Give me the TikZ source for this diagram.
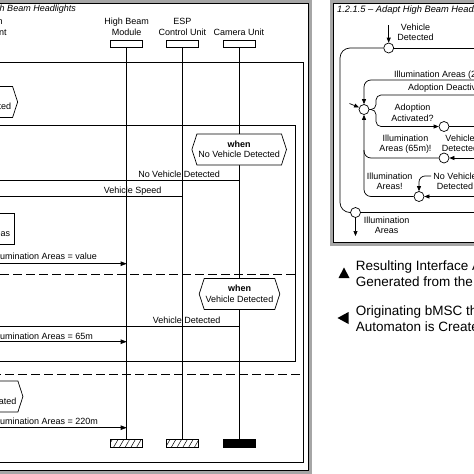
\documentclass[tikz,border=0pt]{standalone}
\usepackage{fontspec}
\setmainfont{Liberation Sans}
\usetikzlibrary{arrows.meta,shapes.symbols,patterns.meta}

\begin{document}
\begin{tikzpicture}[x=1pt,y=-1pt,
    every node/.style={font=\fontsize{9}{10.5}\selectfont,inner sep=0pt},
    head/.style={draw,line width=0.7pt,minimum width=32pt,minimum height=7.5pt},
    stopbox/.style={draw,line width=0.7pt,minimum width=32pt,minimum height=8.5pt},
    life/.style={line width=0.7pt},
    msg/.style={line width=0.7pt,-{Triangle[length=6pt,width=4.5pt]}},
    frag/.style={line width=0.7pt},
    when/.style={draw,fill=white,line width=0.7pt,signal,signal to=west and east,
      signal pointer angle=144,inner xsep=1.5pt,minimum height=31pt,align=center},
    state/.style={draw,circle,fill=white,line width=0.7pt,minimum size=10pt},
    trans/.style={line width=0.7pt,rounded corners=7pt},
    tip/.style={-{Triangle[length=5pt,width=4pt]}},
    shadow/.style={draw=gray!70,line width=3pt}]
  \useasboundingbox (0,0) rectangle (474,474);
  \clip (0,0) rectangle (474,474);
  % Panels
  \draw[shadow] (-20,1.5) rectangle (310.5,472.5);
  \draw[line width=0.6pt] (-20,3.3) rectangle (308.7,470.7);
  \draw[shadow] (331.5,1.5) rectangle (490,244.5);
  \draw[line width=0.6pt] (333.3,3.3) rectangle (490,242.7);
  \node[anchor=base east,font=\fontsize{9}{10.5}\itshape] (ttlL) at (76,11) {1.2.1.5 -- Adapt High Beam Headlights};
  \node[anchor=base west,font=\fontsize{9.3}{10.5}\itshape] (ttlR) at (337,12) {1.2.1.5 -- Adapt High Beam Headlights};
  % Fragments
  \draw[frag] (-60,62) rectangle (303,462);
  \draw[frag,dash pattern=on 8.5pt off 4.5pt] (-60,374) -- (303,374);
  \draw[frag] (-52,125.7) rectangle (295,361);
  \draw[frag,dash pattern=on 8.5pt off 4.5pt] (-52,274) -- (295,274);
  % Lifelines
  \coordinate (lfc) at (-25.5,43.75);
  \node[align=center] (lfcL) at (-25.5,27) {Light Function\\Control Element};
  \node[head] (hbm) at (126.7,43.75) {};
  \node[align=center] (hbmL) at (126.7,27) {High Beam\\Module};
  \node[head] (esp) at (182.3,43.75) {};
  \node[align=center] (espL) at (182.3,27) {ESP\\Control Unit};
  \node[head] (cam) at (239,43.75) {};
  \node[anchor=base] (camL) at (239,35) {Camera Unit};
  \node[stopbox,pattern={Lines[angle=60,distance=5pt,line width=0.5pt]}] (hbmEnd) at (126.7,443.25) {};
  \node[stopbox,pattern={Lines[angle=60,distance=5pt,line width=0.5pt]}] (espEnd) at (182.3,443.25) {};
  \node[stopbox,fill=black] (camEnd) at (239,443.25) {};
  \draw[life] (hbm) -- (hbmEnd);
  \draw[life] (esp) -- (espEnd);
  \draw[life] (cam) -- (camEnd);
  % Conditions
  \node[when,anchor=east] (wAct) at (18,102) {\textbf{when}\\Adoption Activated};
  \node[when] (wNoVeh) at (239.2,149.5) {\textbf{when}\\No Vehicle Detected};
  \node[when] (wVeh) at (239.5,294) {\textbf{when}\\Vehicle Detected};
  \node[when,anchor=east] (wDeact) at (23.3,396.5) {\textbf{when}\\Adoption Deactivated};
  \node[draw,line width=0.7pt,minimum width=79pt,minimum height=31pt,align=center] (calc) at (-25.5,228.5) {Calculate\\Illumination Areas};
  % Messages
  \draw[msg] (cam |- 0,180.7) -- (lfc |- 0,180.7);
  \node[anchor=base east] (mNoVeh) at (220,177) {No Vehicle Detected};
  \draw[msg] (esp |- 0,196.7) -- (lfc |- 0,196.7);
  \node[anchor=base east] (mSpeed) at (161.7,193) {Vehicle Speed};
  \draw[msg] (lfc |- 0,263.7) -- (hbm |- 0,263.7);
  \node[anchor=base west] (mValue) at (-6.5,259.7) {Illumination Areas = value};
  \draw[msg] (cam |- 0,326) -- (lfc |- 0,326);
  \node[anchor=base east] (mVeh) at (220.7,323) {Vehicle Detected};
  \draw[msg] (lfc |- 0,341.7) -- (hbm |- 0,341.7);
  \node[anchor=base west] (mNear) at (-6.5,339) {Illumination Areas = 65m};
  \draw[msg] (lfc |- 0,427.7) -- (hbm |- 0,427.7);
  \node[anchor=base west] (mFar) at (-6.5,424.7) {Illumination Areas = 220m};
  % Automaton
  \node[state] (inS) at (388.7,48) {};
  \node[state] (hub) at (364,109.5) {};
  \node[state] (actS) at (444,126.5) {};
  \node[state] (vdS) at (444,158) {};
  \node[state] (nvdS) at (419,196.5) {};
  \node[state] (outS) at (355.5,212.5) {};
  \coordinate (vdIn) at (388.7,25);
  \coordinate (initP) at (349.5,103.5);
  \coordinate (outEnd) at (355.5,236);
  \draw[trans,tip] (vdIn) -- (inS);
  \draw[trans] (inS) -- (480,48);
  \draw[trans,rounded corners=10pt] (inS) -- (340,48) -- (340,212.5) -- (outS);
  \draw[trans] (outS) -- (480,212.5);
  \draw[trans,tip] (outS) -- (outEnd);
  \draw[trans,tip] (initP) -- (hub);
  \draw[trans,tip] (480,80) -- (364,80) -- (hub);
  \draw[trans,rounded corners=5pt] (hub) -- (376,109.5) -- (376,95) -- (480,95);
  \draw[trans,tip,rounded corners=5pt] (hub) -- (376,109.5) -- (376,126.5) -- (actS);
  \draw[trans] (actS) -- (480,126.5);
  \draw[trans,tip] (480,158) -- (vdS);
  \draw[trans,tip] (vdS) -- (364,158) -- (hub);
  \draw[trans,tip] (480,196.5) -- (nvdS);
  \draw[trans] (nvdS) -- (364,196.5) -- (364,150);
  \draw[trans,tip,rounded corners=6pt] (431,176) -- (419,176) -- (nvdS);
  \node[align=center] (tVeh) at (415.5,32.2) {Vehicle\\Detected};
  \node[anchor=base west] (tFar) at (394,77) {Illumination Areas (220m)!};
  \node[anchor=base west] (tDeact) at (408,90.5) {Adoption Deactivated};
  \node[align=center] (tAct) at (412.5,112.6) {Adoption\\Activated?};
  \node[align=center] (tNear) at (405.5,144.2) {Illumination\\Areas (65m)!};
  \node[align=center] (tVeh2) at (460,143.5) {Vehicle\\Detected};
  \node[align=center] (tNoVeh) at (455,181.2) {No Vehicle\\Detected};
  \node[align=center] (tAreas) at (389.7,181.2) {Illumination\\Areas!};
  \node[align=center] (tOut) at (386.7,225.2) {Illumination\\Areas};
  % Legend
  \fill (338.5,278) -- (349.5,278) -- (344,267.5) -- cycle;
  \node[anchor=west,align=left,font=\fontsize{13.5}{16}\selectfont] (resTxt) at (355.7,273.5) {Resulting Interface Automaton\\Generated from the bMSC};
  \fill (337.5,318) -- (348.5,312) -- (348.5,324) -- cycle;
  \node[anchor=west,align=left,font=\fontsize{13.5}{16}\selectfont] (orgTxt) at (355.7,319) {Originating bMSC that the\\Automaton is Created from};
\end{tikzpicture}
\end{document}
